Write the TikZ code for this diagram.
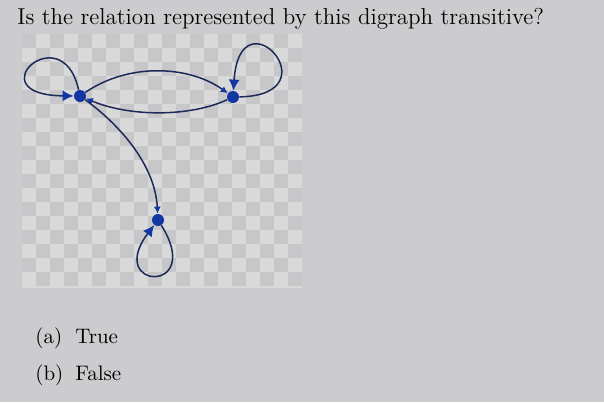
\documentclass[tikz,border=0pt]{standalone}
\usetikzlibrary{arrows.meta}

\definecolor{screengray}{RGB}{204,203,206}
\definecolor{chklight}{RGB}{217,217,218}
\definecolor{chkdark}{RGB}{199,199,201}
\definecolor{edgenavy}{RGB}{28,42,88}
\definecolor{vtxblue}{RGB}{18,55,165}

\tikzset{
  vtx/.style={circle, fill=vtxblue, inner sep=0pt, minimum size=6pt},
  arc/.style={edgenavy, line width=0.75pt, -{Latex[length=3.5pt,width=3.5pt,color=vtxblue]}},
  selfloop/.style={edgenavy, line width=0.75pt, -{Latex[length=5.5pt,width=5.5pt,color=vtxblue]}},
  txt/.style={anchor=base west, inner sep=0pt, text=black},
}

\begin{document}
\begin{tikzpicture}[x=0.5pt,y=-0.5pt]
  \useasboundingbox (0,0) rectangle (604,402);
  \fill[screengray] (0,0) rectangle (604,402);

  % checkered (transparent) background of the image
  \fill[chklight] (22,34) rectangle (302,288);
  \foreach \i in {0,...,19}
    \foreach \j in {0,...,17}{
      \pgfmathtruncatemacro\chkodd{mod(\i+\j,2)}
      \ifnum\chkodd=0 \fill[chkdark] ({22+14*\i},{34+14*\j}) rectangle +(14,14); \fi
    }

  \node[txt, font=\fontsize{11.5}{14}\selectfont] (question) at (17,24)
    {Is the relation represented by this digraph transitive?};

  % vertices
  \node[vtx] (a) at (80,96) {};
  \node[vtx] (b) at (233,97) {};
  \node[vtx] (c) at (158,220) {};

  % edges
  \draw[arc] (a) .. controls (130,62) and (190,66) .. (b);
  \draw[arc] (b) .. controls (190,117) and (130,117) .. (a);
  \draw[arc] (a) .. controls (120,125) and (155,165) .. (c);

  % loops
  \draw[selfloop] (a) .. controls (62,15) and (-25,95) .. (a);
  \draw[selfloop] (b) .. controls (335,95) and (240,-10) .. (b);
  \draw[selfloop] (c) .. controls (205,295) and (105,290) .. (c);

  % answers
  \node[txt, font=\fontsize{10.5}{12}\selectfont] (opta) at (35,343)
    {\makebox[20pt][l]{(a)}True};
  \node[txt, font=\fontsize{10.5}{12}\selectfont] (optb) at (35,380)
    {\makebox[20pt][l]{(b)}False};
\end{tikzpicture}
\end{document}
